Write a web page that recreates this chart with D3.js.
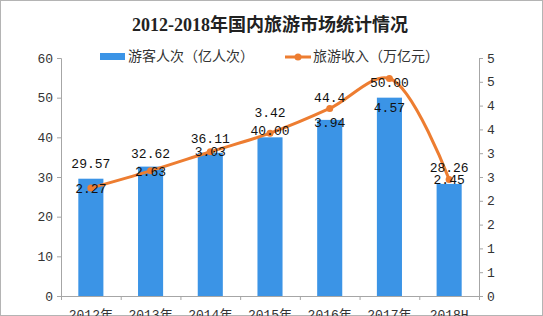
<!DOCTYPE html>
<html>
<head>
<meta charset="utf-8">
<script src="https://cdn.jsdelivr.net/npm/d3@7"></script>
<style>
  body { margin: 0; background: #fff; }
  svg { display: block; }
</style>
</head>
<body>
<div id="chart"></div>
<script>
// chart data
var years = ["2012年", "2013年", "2014年", "2015年", "2016年", "2017年", "2018H"];
var visitors = [29.57, 32.62, 36.11, 40.00, 44.4, 50.00, 28.26];   // 亿人次
var income = [2.27, 2.63, 3.03, 3.42, 3.94, 4.57, 2.45];           // 万亿元
var leftTicks = [0, 10, 20, 30, 40, 50, 60];
var rightTicks = [0, 0.5, 1, 1.5, 2, 2.5, 3, 3.5, 4, 4.5, 5];
var seriesNames = ["游客人次（亿人次）", "旅游收入（万亿元）"];

// the data labels in the picture were nudged by hand, keep those nudges here
var barLabelDy = [-15, -13, -14, -7, -22, -15, -16];
var lineLabelDy = [1, 1, 0, -21, 14, 29, 0];

var width = 543, height = 316;
var margin = {top: 58, right: 64, bottom: 20, left: 61};
var blue = "#3b94e6", orange = "#ed7d31", axisColor = "#a6a6a6";
var numFont = "'Liberation Mono', 'Noto Sans CJK SC', monospace";

var svg = d3.select("#chart").append("svg")
    .attr("width", width)
    .attr("height", height);

// outer frame
svg.append("rect")
    .attr("x", 0.5).attr("y", 0.5)
    .attr("width", width - 1).attr("height", height - 1)
    .attr("fill", "#fff")
    .attr("stroke", "#b4b4b4");

var x = d3.scaleBand()
    .domain(years)
    .range([margin.left, width - margin.right])
    .paddingInner(0.58)
    .paddingOuter(0.29);
var xEdge = d3.scaleLinear()
    .domain([0, years.length])
    .range([margin.left, width - margin.right]);
var y = d3.scaleLinear()
    .domain([0, 60])
    .range([height - margin.bottom, margin.top]);
var y2 = d3.scaleLinear()
    .domain([0, 5])
    .range([height - margin.bottom, margin.top]);

function cx(d) { return x(d) + x.bandwidth() / 2; }

// title
svg.append("text")
    .attr("x", 270).attr("y", 31)
    .attr("text-anchor", "middle")
    .attr("font-family", "'Liberation Serif', 'Noto Sans CJK SC', serif")
    .attr("font-weight", "bold")
    .attr("font-size", 18)
    .attr("fill", "#222")
    .text("2012-2018年国内旅游市场统计情况");

// legend
var legend = svg.append("g")
    .attr("font-family", "'Noto Sans CJK SC', sans-serif")
    .attr("font-size", 14)
    .attr("fill", "#333");
legend.append("rect")
    .attr("x", 100).attr("y", 53)
    .attr("width", 25).attr("height", 7)
    .attr("fill", blue);
legend.append("text")
    .attr("x", 128).attr("y", 61)
    .text(seriesNames[0]);
legend.append("line")
    .attr("x1", 285).attr("x2", 311)
    .attr("y1", 57).attr("y2", 57)
    .attr("stroke", orange).attr("stroke-width", 3);
legend.append("circle")
    .attr("cx", 298).attr("cy", 57).attr("r", 3.5)
    .attr("fill", orange);
legend.append("text")
    .attr("x", 313).attr("y", 61)
    .text(seriesNames[1]);

// bars
svg.selectAll(".bar")
    .data(visitors)
    .enter().append("rect")
    .attr("class", "bar")
    .attr("x", function(d, i) { return x(years[i]); })
    .attr("width", x.bandwidth())
    .attr("y", function(d) { return y(d); })
    .attr("height", function(d) { return y(0) - y(d); })
    .attr("fill", blue);

// axes
var leftAxis = svg.append("g")
    .attr("transform", "translate(" + margin.left + ",0)")
    .call(d3.axisLeft(y).tickValues(leftTicks).tickSize(4).tickPadding(4));

var rightAxis = svg.append("g")
    .attr("transform", "translate(" + (width - margin.right) + ",0)")
    .call(d3.axisRight(y2).tickValues(rightTicks).tickSize(4).tickPadding(4)
        .tickFormat(function(d) { return Math.round(d); }));

var bottomTicks = svg.append("g")
    .attr("transform", "translate(0," + y(0) + ")")
    .call(d3.axisBottom(xEdge).tickValues(d3.range(years.length + 1))
        .tickSize(4).tickFormat(""));

var bottomAxis = svg.append("g")
    .attr("transform", "translate(0," + y(0) + ")")
    .call(d3.axisBottom(x).tickSize(0).tickPadding(14));
bottomAxis.select(".domain").remove();

[leftAxis, rightAxis, bottomTicks, bottomAxis].forEach(function(g) {
    g.selectAll(".domain, line").attr("stroke", axisColor);
    g.selectAll("text")
        .attr("font-family", numFont)
        .attr("font-size", 13)
        .attr("fill", "#333");
});

// income line
var line = d3.line()
    .x(function(d, i) { return cx(years[i]); })
    .y(function(d) { return y2(d); })
    .curve(d3.curveCatmullRom.alpha(0.5));

svg.append("path")
    .datum(income)
    .attr("d", line)
    .attr("fill", "none")
    .attr("stroke", orange)
    .attr("stroke-width", 3);

svg.selectAll(".dot")
    .data(income)
    .enter().append("circle")
    .attr("class", "dot")
    .attr("cx", function(d, i) { return cx(years[i]); })
    .attr("cy", function(d) { return y2(d); })
    .attr("r", 3.5)
    .attr("fill", orange);

// data labels
svg.selectAll(".barLabel")
    .data(visitors)
    .enter().append("text")
    .attr("class", "barLabel")
    .attr("x", function(d, i) { return cx(years[i]); })
    .attr("y", function(d, i) { return y(d) + barLabelDy[i]; })
    .attr("dy", "0.35em")
    .attr("text-anchor", "middle")
    .attr("font-family", numFont)
    .attr("font-size", 13)
    .attr("fill", "#111")
    .text(function(d, i) { return i == 4 ? "44.4" : d.toFixed(2); });

svg.selectAll(".lineLabel")
    .data(income)
    .enter().append("text")
    .attr("class", "lineLabel")
    .attr("x", function(d, i) { return cx(years[i]); })
    .attr("y", function(d, i) { return y2(d) + lineLabelDy[i]; })
    .attr("dy", "0.35em")
    .attr("text-anchor", "middle")
    .attr("font-family", numFont)
    .attr("font-size", 13)
    .attr("fill", "#111")
    .text(function(d) { return d.toFixed(2); });
</script>
</body>
</html>
